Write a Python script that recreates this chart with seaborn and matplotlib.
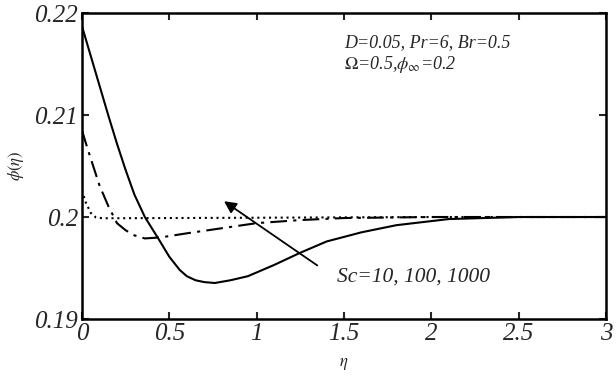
import numpy as np
import pandas as pd
import matplotlib
matplotlib.use('Agg')
import matplotlib.pyplot as plt
import seaborn as sns

# Sc = 10 (solid)
eta_sc10 = [0, 0.05, 0.1, 0.15, 0.2, 0.25, 0.3, 0.36, 0.44, 0.5, 0.56, 0.6, 0.65, 0.7,
            0.76, 0.85, 0.95, 1.1, 1.25, 1.4, 1.6, 1.8, 2.1, 2.5, 3.0]
phi_sc10 = [0.2187, 0.2158, 0.2129, 0.2100, 0.2072, 0.2046, 0.2022, 0.2000, 0.1978,
            0.1961, 0.1948, 0.1942, 0.1938, 0.19362, 0.19353, 0.1938, 0.1942, 0.1953,
            0.1965, 0.1976, 0.1985, 0.1992, 0.1998, 0.2000, 0.2000]

# Sc = 100 (dash-dot)
eta_sc100 = [0, 0.03, 0.1, 0.15, 0.2, 0.25, 0.3, 0.36, 0.45, 0.6, 0.8, 1.0, 1.25,
             1.5, 2.0, 3.0]
phi_sc100 = [0.2085, 0.2068, 0.2031, 0.2011, 0.1994, 0.1987, 0.1982, 0.1979, 0.1980,
             0.1984, 0.1989, 0.1994, 0.1997, 0.1999, 0.2000, 0.2000]

# Sc = 1000 (dotted)
eta_sc1000 = [0, 0.02, 0.05, 0.08, 0.12, 0.2, 0.5, 1.0, 2.0, 3.0]
phi_sc1000 = [0.2026, 0.2015, 0.2004, 0.19995, 0.19988, 0.19988, 0.19990, 0.19993,
              0.2000, 0.2000]

x_ticks = [0, 0.5, 1, 1.5, 2, 2.5, 3]
x_labels = ['0', '0.5', '1', '1.5', '2', '2.5', '3']
y_ticks = [0.19, 0.2, 0.21, 0.22]
y_labels = ['0.19', '0.2', '0.21', '0.22']

df = pd.concat([
    pd.DataFrame({'eta': eta_sc10, 'phi': phi_sc10, 'Sc': '10'}),
    pd.DataFrame({'eta': eta_sc100, 'phi': phi_sc100, 'Sc': '100'}),
    pd.DataFrame({'eta': eta_sc1000, 'phi': phi_sc1000, 'Sc': '1000'}),
], ignore_index=True)

sns.set_style('white')
plt.rcParams['font.family'] = ['Liberation Serif', 'DejaVu Serif']
plt.rcParams['mathtext.fontset'] = 'stix'

fig = plt.figure(figsize=(6.16, 3.77), dpi=100)
ax = fig.add_axes([0.1331, 0.1538, 0.8507, 0.8117])

sns.lineplot(data=df, x='eta', y='phi', style='Sc', color='black',
             dashes={'10': '', '100': (8, 3, 1.5, 3), '1000': (1, 1.8)},
             linewidth=1.5, legend=False, ax=ax, sort=False, estimator=None)

ax.set_xlim(0, 3)
ax.set_ylim(0.19, 0.22)
ax.set_xticks(x_ticks)
ax.set_xticklabels(x_labels, fontsize=18, style='italic')
ax.set_yticks(y_ticks)
ax.set_yticklabels(y_labels, fontsize=18, style='italic')
ax.tick_params(direction='in', length=5, width=1.5, top=True, right=True,
               bottom=True, left=True)
ax.tick_params(axis='x', pad=3)
ax.tick_params(axis='y', pad=3)
for s in ax.spines.values():
    s.set_linewidth(1.8)
    s.set_color('black')

ax.set_xlabel(r'$\eta$', fontsize=12, labelpad=8)
ax.set_ylabel(r'$\phi(\eta)$', fontsize=12, labelpad=6)

ax.text(1.50, 0.2171, 'D=0.05, Pr=6, Br=0.5', fontsize=13, style='italic',
        va='center', ha='left')
ax.text(1.50, 0.2150, r'$\Omega$=0.5,$\phi_\infty$=0.2', fontsize=13, style='italic',
        va='center', ha='left')

ax.annotate('', xy=(0.80, 0.2017), xytext=(1.36, 0.1951),
            arrowprops=dict(arrowstyle='-|>', color='black', lw=1.3,
                            mutation_scale=18))
ax.text(1.46, 0.1941, 'Sc=10, 100, 1000', fontsize=15.5, style='italic',
        va='center', ha='left')

fig.savefig('out.png', dpi=100)
